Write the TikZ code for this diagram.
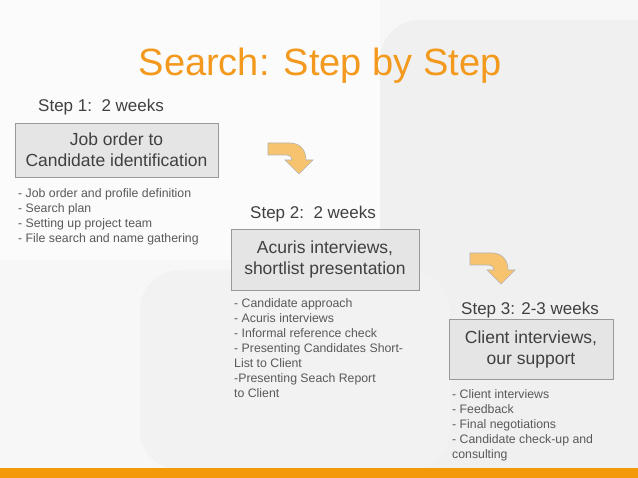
\documentclass[tikz,border=0pt]{standalone}
\usepackage{fontspec}
\setmainfont{Liberation Sans}
\definecolor{arrfill}{HTML}{F8C36E}
\definecolor{ttl}{HTML}{F39A1E}
\definecolor{bar}{HTML}{F49A0A}
\begin{document}
\begin{tikzpicture}[x=1pt,y=-1pt,
  box/.style={draw=gray!80,fill=black!10,line width=0.8pt,align=center,text=black!75,font=\fontsize{17.5}{21}\selectfont,inner sep=0pt},
  steplbl/.style={text=black!75,font=\fontsize{17}{20}\selectfont,anchor=west,inner sep=0pt},
  body/.style={text=black!65,font=\fontsize{12.3}{15}\selectfont,align=left,anchor=north west,inner sep=0pt},
  arr/.style={fill=arrfill,draw=gray!60,line width=0.6pt}]
\useasboundingbox (0,0) rectangle (638,478);
\fill[black!3] (0,0) rectangle (638,478);
\fill[black!6,rounded corners=40pt] (380,20) rectangle (700,470);
\fill[black!5,rounded corners=40pt] (140,270) rectangle (450,470);
\fill[white,opacity=0.6] (0,0) rectangle (380,260);
\fill[bar] (0,468) rectangle (638,478);
\node[text=ttl,font=\fontsize{38}{40}\selectfont] (title) at (320,66) {Search: Step by Step};
\node[steplbl] (s1) at (38,107) {Step 1:\ \ 2 weeks};
\node[box,minimum width=203pt,minimum height=54pt] (b1) at (116.5,150) {Job order to\\Candidate identification};
\node[body] (t1) at (18,188) {- Job order and profile definition\\- Search plan\\- Setting up project team\\- File search and name gathering};
\node[steplbl] (s2) at (250,214) {Step 2:\ \ 2 weeks};
\node[box,minimum width=188pt,minimum height=61pt] (b2) at (325,259.5) {Acuris interviews,\\shortlist presentation};
\node[body] (t2) at (234,298) {- Candidate approach\\- Acuris interviews\\- Informal reference check\\- Presenting Candidates Short-\\List to Client\\-Presenting Seach Report\\to Client};
\node[steplbl] (s3) at (461,310) {Step 3: 2-3 weeks};
\node[box,minimum width=164pt,minimum height=60pt] (b3) at (531,349) {Client interviews,\\our support};
\node[body] (t3) at (452,389) {- Client interviews\\- Feedback\\- Final negotiations\\- Candidate check-up and\\consulting};
\foreach \dx/\dy in {0/0,202/110}{
\draw[arr,shift={(\dx,\dy)}] (268,143) -- (290,143) .. controls (300,143) and (306,150) .. (306,160) -- (313,160) -- (299,174) -- (285,160) -- (292,160) .. controls (292,157) and (290,155) .. (287,155) -- (268,155) -- cycle;}
\end{tikzpicture}
\end{document}
